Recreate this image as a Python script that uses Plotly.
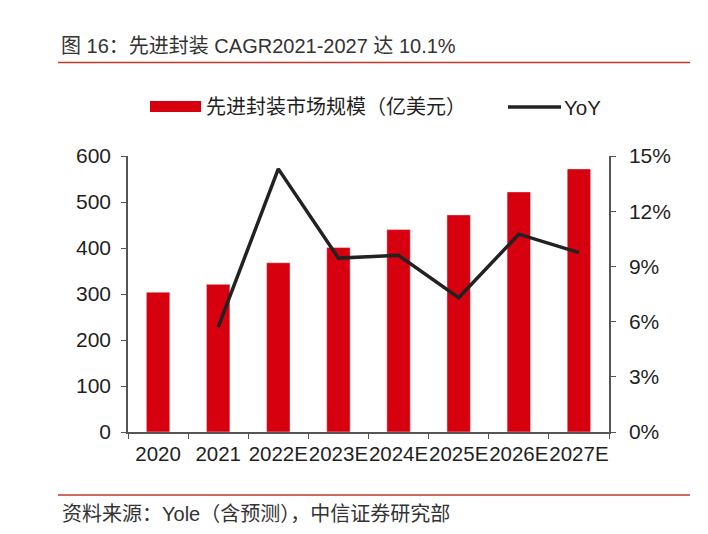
import plotly.graph_objects as go

categories = ["2020", "2021", "2022E", "2023E", "2024E", "2025E", "2026E", "2027E"]
market_size = [304, 321, 368, 401, 440, 472, 522, 572]
yoy_cats = ["2021", "2022E", "2023E", "2024E", "2025E", "2026E", "2027E"]
yoy_pct = [5.7, 14.3, 9.45, 9.6, 7.3, 10.75, 9.75]
left_ticks = [0, 100, 200, 300, 400, 500, 600]
right_ticks = [0, 3, 6, 9, 12, 15]

W, H = 708, 534
L, R, T, B = 128, 609, 156, 432
RED = "#D7000F"
FONT = "Liberation Sans, Arial, Noto Sans CJK SC"
TXT = "#1f1f1f"

def px(x):
    return (x - L) / (R - L)

def py(y):
    return (B - y) / (B - T)

fig = go.Figure()
fig.add_trace(go.Bar(x=categories, y=market_size, marker_color=RED, width=0.39,
                     name="先进封装市场规模（亿美元）", showlegend=False))
fig.add_trace(go.Scatter(x=yoy_cats, y=yoy_pct, yaxis="y2", mode="lines",
                         line=dict(color="#222222", width=3.5), name="YoY", showlegend=False))

shapes = [
    dict(type="line", xref="paper", yref="paper", x0=px(58), x1=px(690), y0=py(62.5), y1=py(62.5),
         line=dict(color="#C0392B", width=1.5)),
    dict(type="line", xref="paper", yref="paper", x0=px(58), x1=px(690), y0=py(495), y1=py(495),
         line=dict(color="#C0392B", width=1.5)),
    dict(type="rect", xref="paper", yref="paper", x0=px(150), x1=px(201), y0=py(112), y1=py(101),
         fillcolor=RED, line=dict(width=0)),
    dict(type="line", xref="paper", yref="paper", x0=px(508), x1=px(561), y0=py(107), y1=py(107),
         line=dict(color="#222222", width=3.5)),
]
annotations = [
    dict(text="图 16：先进封装 CAGR2021-2027 达 10.1%", xref="paper", yref="paper",
         x=px(59), y=py(46.5), xanchor="left", yanchor="middle", showarrow=False,
         font=dict(family=FONT, size=20, color="#333333")),
    dict(text="资料来源：Yole（含预测），中信证券研究部", xref="paper", yref="paper",
         x=px(60), y=py(514), xanchor="left", yanchor="middle", showarrow=False,
         font=dict(family=FONT, size=20, color="#333333")),
    dict(text="先进封装市场规模（亿美元）", xref="paper", yref="paper",
         x=px(204), y=py(107), xanchor="left", yanchor="middle", showarrow=False,
         font=dict(family=FONT, size=20, color=TXT)),
    dict(text="YoY", xref="paper", yref="paper",
         x=px(562), y=py(107), xanchor="left", yanchor="middle", showarrow=False,
         font=dict(family=FONT, size=20.5, color=TXT)),
]

fig.update_layout(
    width=W, height=H,
    margin=dict(l=L, r=W - R, t=T, b=H - B, pad=0),
    paper_bgcolor="white", plot_bgcolor="white",
    font=dict(family=FONT, color=TXT),
    xaxis=dict(type="category", showgrid=False, showline=True, linecolor="#555555", linewidth=1.5,
               ticks="outside", tickson="boundaries", ticklen=5, tickcolor="#555555",
               ticklabelstandoff=3,
               tickangle=0, tickfont=dict(size=20.5, color=TXT), range=[-0.5, 7.5]),
    yaxis=dict(range=[0, 600], tickvals=left_ticks, showgrid=False, showline=True,
               linecolor="#555555", linewidth=1.5, ticks="outside", ticklen=5, tickcolor="#555555",
               ticklabelstandoff=6, tickfont=dict(size=21, color=TXT), zeroline=False),
    yaxis2=dict(range=[0, 15], tickvals=right_ticks, ticktext=[f"{v}%" for v in right_ticks],
                overlaying="y", side="right", showgrid=False, showline=True,
                linecolor="#555555", linewidth=1.5, ticks="outside", ticklen=5, tickcolor="#555555",
                ticklabelstandoff=9, tickfont=dict(size=21, color=TXT), zeroline=False),
    shapes=shapes, annotations=annotations,
)

fig.write_html("out.html")
